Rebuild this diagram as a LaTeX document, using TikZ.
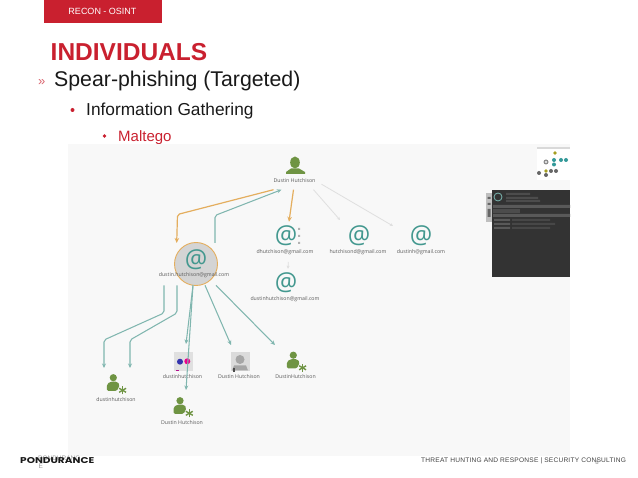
\documentclass[tikz,border=0pt]{standalone}
\usepackage{fontspec}
\usepackage{graphicx}
\setmainfont{Liberation Sans}
\newfontfamily\labelfont{Open Sans}
\newfontfamily\logofont{Poppins}
\usetikzlibrary{positioning,calc,arrows.meta}
\definecolor{slidered}{HTML}{C9202F}
\definecolor{tealline}{HTML}{80B6AF}
\definecolor{orangeline}{HTML}{E4AE5E}
\definecolor{greyline}{HTML}{DFDFDF}
\definecolor{mailteal}{HTML}{43988F}
\definecolor{usergreen}{HTML}{6F9443}
\definecolor{shotbg}{HTML}{F8F8F8}
\definecolor{panelgrey}{HTML}{333333}
\tikzset{
  txt/.style = {anchor=west, inner sep=0pt, text=#1},
  mail/.style = {inner sep=0pt, text=mailteal, font=\labelfont\fontsize{25}{25}\selectfont},
  entlabel/.style = {inner sep=1pt, text=black!65, font=\labelfont\fontsize{5.2}{6}\selectfont},
  tealarrow/.style = {draw=tealline, line width=1.05pt, rounded corners=2pt, -{Stealth[length=4.5pt,width=4pt]}},
  ochrearrow/.style = {draw=orangeline, line width=1.2pt, rounded corners=2pt, -{Stealth[length=5pt,width=4.5pt]}},
  palearrow/.style = {draw=greyline, line width=0.8pt, -{Stealth[length=3pt,width=3pt]}},
  user/.pic = {
    \fill[usergreen] (0,-7.3) circle (3.6);
    \fill[usergreen, rounded corners=1.5pt] (-6.5,6) -- (-6.5,-0.5) -- (-3,-3.3) -- (4,-3.3) -- (6.5,0) -- (3.5,6) -- cycle;
    \foreach \ang in {30,90,150}
      \draw[usergreen, line width=1.4pt] (9.3,5.3) +(\ang:4) -- +(\ang+180:4);
  },
}
\begin{document}
\begin{tikzpicture}[x=1pt,y=-1pt]
\useasboundingbox (0,0) rectangle (638,478);
% slide head
\fill[slidered] (44,0) rectangle (162,23);
\node (tab) at (102.5,11.5) [inner sep=0pt,text=white,font=\fontsize{9}{9}\selectfont] {RECON - OSINT};
\node (title) at (50.5,52) [txt=slidered,font=\fontsize{24.5}{25}\selectfont\bfseries] {INDIVIDUALS};
\node (mark) at (38,83) [txt=slidered!70,font=\fontsize{13}{13}\selectfont] {»};
\node (l1) at (54,81) [txt=black!90,font=\fontsize{21.3}{22}\selectfont] {Spear-phishing (Targeted)};
\fill[slidered] (72.5,110) circle (2);
\node (l2) at (86,111) [txt=black!90,font=\fontsize{17.3}{18}\selectfont] {Information Gathering};
\fill[slidered] (104.5,136) circle (1.8);
\node (l3) at (118,137.5) [txt=slidered,font=\fontsize{15}{16}\selectfont] {Maltego};
% screenshot
\fill[shotbg] (68,144) rectangle (570,456);
% minimap
\fill[white] (537,147) rectangle (570,180);
\fill[black!15] (537,147) rectangle (570,149);
\fill[black!60] (539,173) circle (2) (546,175) circle (2) (551,171) circle (2) (556,171) circle (2);
\fill[black!45] (546,162) circle (2.5);
\fill[shotbg] (546,162) circle (1.1);
\fill[teal!80] (554,160) circle (2) (554,164.5) circle (2) (561,160) circle (2) (566,160) circle (2);
\fill[olive!80] (555,153) circle (1.8) (546,171) circle (1.8);
% panel
\fill[black!25] (486,193) rectangle (492,222);
\fill[black!60] (487.5,197) rectangle (490.5,199) (487.5,203) rectangle (490.5,205) (487.5,209) rectangle (490.5,217);
\fill[panelgrey] (492,190) rectangle (570,277);
\fill[black!65] (493,205) rectangle (570,208) (493,214) rectangle (570,217);
\fill[black!70] (493,209) rectangle (520,213);
\draw[mailteal!70,line width=0.8pt] (498,197) circle (4);
\fill[black!70] (506,193) rectangle (530,195) (506,197) rectangle (538,199) (506,200) rectangle (540,202);
\fill[black!65] (494,219) rectangle (510,221) (494,223) rectangle (510,225) (494,227) rectangle (510,229);
\fill[black!72] (512,219) rectangle (550,221) (512,223) rectangle (555,225) (512,227) rectangle (550,229);
% entities
\node (top) at (295,165) [inner sep=0pt,minimum width=20pt,minimum height=20pt] {};
\fill[usergreen] (295,162.5) ellipse (4.8 and 6);
\fill[usergreen] (286,174) -- (286,172) -- (291,168.5) -- (299,168.5) -- (305,172) -- (305,174) -- cycle;
\node (toplabel) at (294.5,181) [entlabel] {Dustin Hutchison};
\node (sel) at (196,264) [circle,draw=orangeline,fill=black!17,line width=0.9pt,minimum size=43pt,inner sep=0pt] {};
\node (selmail) at (196,259.5) [mail] {@};
\node (sellabel) at (194,275.5) [entlabel] {dustin.hutchison@gmail.com};
\node (dh) at (286,236) [mail] {@};
\fill[black!30] (298,228) rectangle (300,230) (298,235) rectangle (300,237) (298,242) rectangle (300,244);
\node (dhlabel) at (285,252.5) [entlabel] {dhutchison@gmail.com};
\node (hd) at (359,236) [mail] {@};
\node (hdlabel) at (358,252.5) [entlabel] {hutchisond@gmail.com};
\node (di) at (421,236) [mail] {@};
\node (dilabel) at (421,252.5) [entlabel] {dustinh@gmail.com};
\node (du) at (286,283) [mail] {@};
\node (dulabel) at (285,299) [entlabel] {dustinhutchison@gmail.com};
\pic at (113.3,385) {user};
\node (u1) at (116,400) [entlabel] {dustinhutchison};
\node (fl) at (183.5,361.5) [fill=black!12,minimum size=19pt,inner sep=0pt] {};
\fill[blue!60!black!80] (180,361.7) circle (3);
\fill[magenta] (187.3,361.3) circle (3);
\fill[magenta!70!blue] (176,369.8) rectangle (179,371);
\node (u2) at (182.5,377) [entlabel] {dustinhutchison};
\node (av) at (240.5,361.5) [fill=black!14,minimum size=19pt,inner sep=0pt] {};
\fill[black!35] (240,359.5) circle (4.5);
\fill[black!35] (232,370.5) -- (234,365.5) -- (246,365.5) -- (248,370.5) -- cycle;
\fill[black!70] (232.5,368.5) rectangle (235,372.5);
\node (u3) at (239,377) [entlabel] {Dustin Hutchison};
\pic at (293.3,362.5) {user};
\node (u4) at (295.5,377) [entlabel] {DustinHutchison};
\pic at (180,408) {user};
\node (u5) at (182,423) [entlabel] {Dustin Hutchison};
% links
\draw[ochrearrow] ([xshift=-21pt,yshift=-5.5pt]toplabel.south) -- (177.5,214.5) -- (176.7,243);
\draw[tealarrow] (215,243) -- (215,215.5) -- ([xshift=-13pt,yshift=-5.5pt]toplabel.south);
\draw[ochrearrow] ([xshift=-1pt,yshift=-5.5pt]toplabel.south) -- ([xshift=3pt,yshift=4pt]dh.north);
\draw[palearrow] ([xshift=19pt,yshift=-5.5pt]toplabel.south) -- (340,220);
\draw[palearrow] ([xshift=27pt]toplabel.south) -- (393,226);
\draw[palearrow] (288.3,262) -- ([xshift=2pt,yshift=4pt]du.north);
\draw[tealarrow] ([xshift=-30pt,yshift=-6pt]sellabel.south) -- (164,313) -- (104,340) -- (104,368);
\draw[tealarrow] ([xshift=-17pt,yshift=-6pt]sellabel.south) -- (177,313) -- (130,340) -- (130,368);
\draw[tealarrow] ([xshift=-1pt,yshift=-6pt]sellabel.south) -- (186,344);
\draw[tealarrow] ([xshift=-1pt,yshift=-6pt]sellabel.south) -- (186,390);
\draw[tealarrow] ([xshift=11pt,yshift=-6pt]sellabel.south) -- (231,345);
\draw[tealarrow] ([xshift=22pt,yshift=-6pt]sellabel.south) -- (275,345);
% footer
\node (conf) at (38,458) [txt=black!40,font=\fontsize{6.5}{7}\selectfont] {PONDURANC};
\node (confb) at (38.5,466) [txt=black!40,font=\fontsize{6.5}{7}\selectfont] {E};
\node (logo) at (20,460.5) [txt=black!90] {\resizebox{74pt}{6pt}{\logofont\bfseries PONDURANCE}};
\node (foot) at (421,460.5) [txt=black!75,font=\addfontfeatures{LetterSpace=3.4}\fontsize{6.6}{7}\selectfont] {THREAT HUNTING AND RESPONSE | SECURITY CONSULTING};
\node (page) at (597,462.5) [inner sep=0pt,text=black!45,font=\fontsize{6}{6}\selectfont] {8};
\end{tikzpicture}
\end{document}
